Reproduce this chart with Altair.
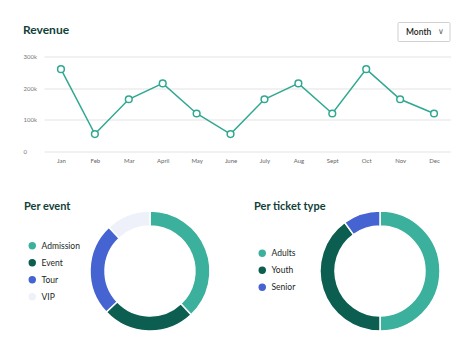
import altair as alt
import pandas as pd

months = ["Jan", "Feb", "Mar", "April", "May", "June", "July", "Aug", "Sept", "Oct", "Nov", "Dec"]
revenue = [260000, 55000, 165000, 215000, 120000, 55000, 165000, 215000, 120000, 260000, 165000, 120000]
y_ticks = [0, 100000, 200000, 300000]

event_types = ["Admission", "Event", "Tour", "VIP"]
event_share = [38, 25, 25, 12]
ticket_types = ["Adults", "Youth", "Senior"]
ticket_share = [50, 40, 10]

TEAL = "#3bb09c"
DARK = "#0b5e50"
BLUE = "#4563d1"
PALE = "#eef1f9"
LINE = "#30a891"
TITLE = "#123f39"
FONT = "Lato"

rev_df = pd.DataFrame({"month": months, "revenue": revenue})

base = alt.Chart(rev_df).encode(
    x=alt.X("month:N", sort=months,
            scale=alt.Scale(type="point", padding=0.5),
            axis=alt.Axis(title=None, labelAngle=0, ticks=False, domain=False,
                          labelFontSize=6, labelColor="#666", labelPadding=6, grid=False)),
    y=alt.Y("revenue:Q", scale=alt.Scale(domain=[0, 300000], nice=False),
            axis=alt.Axis(title=None, values=y_ticks,
                          labelExpr="datum.value == 0 ? '0' : (datum.value / 1000) + 'k'",
                          ticks=False, domain=False,
                          labelFontSize=6, labelColor="#777", labelAlign="left",
                          labelPadding=21, gridColor="#e3e3e3")),
)
line = base.mark_line(color=LINE, strokeWidth=1.5)
pts = base.mark_point(shape="circle", fill="white", stroke=LINE, strokeWidth=1.5,
                      size=45, opacity=1, filled=False)

dd_df = pd.DataFrame({"label": ["Month"], "chev": ["\u2228"]})
box = alt.Chart(dd_df).mark_rect(fill="white", stroke="#d0d0d0", strokeWidth=1, cornerRadius=1).encode(
    x=alt.value(354), x2=alt.value(406), y=alt.value(-34), y2=alt.value(-15))
box_txt = alt.Chart(dd_df).mark_text(align="left", baseline="middle", fontSize=8.5,
                                     fontWeight=600, color="#1b1b1b").encode(
    x=alt.value(362), y=alt.value(-24.5), text="label:N")
chev = alt.Chart(dd_df).mark_text(align="center", baseline="middle", fontSize=8,
                                  color="#666").encode(
    x=alt.value(397), y=alt.value(-24.5), text="chev:N")

top = alt.layer(line, pts, box, box_txt, chev).properties(
    width=407, height=95,
    title=alt.TitleParams("Revenue", anchor="start", frame="bounds", fontSize=12,
                          font=FONT, fontWeight="bold", color=TITLE, offset=-14.5),
)


def donut(cats, vals, colors, title, title_pad, lx, w):
    df = pd.DataFrame({"cat": cats, "val": vals, "idx": list(range(len(cats)))})
    return alt.Chart(df).mark_arc(innerRadius=45, outerRadius=60, stroke="white",
                                  strokeWidth=1.5).encode(
        theta=alt.Theta("val:Q", stack=True),
        order=alt.Order("idx:Q"),
        color=alt.Color("cat:N", sort=cats,
                        scale=alt.Scale(domain=cats, range=colors),
                        legend=alt.Legend(title=title, orient="none", legendX=lx, legendY=-10,
                                          titlePadding=title_pad, titleFontSize=11,
                                          titleFont=FONT, titleFontWeight="bold",
                                          titleColor=TITLE, symbolType="circle",
                                          symbolSize=55, symbolStrokeWidth=0,
                                          symbolOffset=4, labelOffset=5,
                                          labelFontSize=8.5, labelColor="#1a1f1e",
                                          labelFont=FONT, rowPadding=8)),
    ).properties(width=w, height=120)


left = donut(event_types, event_share, [TEAL, DARK, BLUE, PALE], "Per event", 29.5, -20, 212)
right = donut(ticket_types, ticket_share, [TEAL, DARK, BLUE], "Per ticket type", 37, -66, 120)

bottom = alt.hconcat(left, right, spacing=-2).resolve_scale(color="independent")

chart = alt.vconcat(top, bottom, spacing=37.5).configure(
    font=FONT, padding={"left": 15, "top": 13.5, "right": 0, "bottom": 0}, background="white"
).configure_view(stroke=None)

chart.save("out.html", embed_options={"renderer": "svg", "actions": False})
